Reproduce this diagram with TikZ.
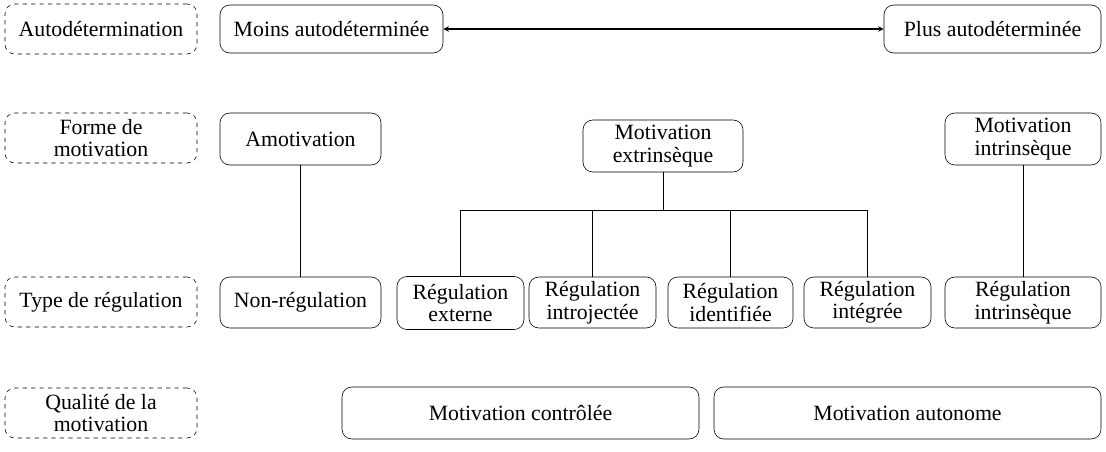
\documentclass[tikz,border=0pt]{standalone}
\usepackage{fontspec}
\setmainfont{Liberation Serif}
\usepackage{tikz}

\begin{document}
\begin{tikzpicture}[x=0.025cm, y=-0.025cm,
        box/.style={draw, rounded corners=7pt, align=center, inner sep=1pt,
            font=\fontsize{15.5}{16}\selectfont},
        lbl/.style={box, dashed, minimum width=192*0.025cm, minimum height=50*0.025cm}]
        \useasboundingbox (0, 0) rectangle (1106, 452);

        \node[lbl] at (101, 29) (l1) {Autodétermination};
        \node[lbl] at (101, 138) (l2) {Forme de\\motivation};
        \node[lbl] at (101, 302) (l3) {Type de régulation};
        \node[lbl] at (101, 413) (l4) {Qualité de la\\motivation};

        \node[box, minimum width=223*0.025cm, minimum height=48*0.025cm] at (331.5, 29) (moins) {Moins autodéterminée};
        \node[box, minimum width=217*0.025cm, minimum height=48*0.025cm] at (992.5, 29) (plus) {Plus autodéterminée};

        \node[box, minimum width=161*0.025cm, minimum height=52*0.025cm] at (300.5, 139) (amot) {Amotivation};
        \node[box, minimum width=160*0.025cm, minimum height=52*0.025cm] at (663, 146) (ext) {Motivation\\extrinsèque};
        \node[box, minimum width=156*0.025cm, minimum height=52*0.025cm] at (1023, 139) (intr) {Motivation\\intrinsèque};

        \node[box, minimum width=161*0.025cm, minimum height=51*0.025cm] at (300.5, 302.5) (nonr) {Non-régulation};
        \node[box, minimum width=127*0.025cm, minimum height=53*0.025cm] at (460.5, 303) (rext) {Régulation\\externe};
        \node[box, minimum width=127*0.025cm, minimum height=51*0.025cm] at (592.5, 302.5) (rintro) {Régulation\\introjectée};
        \node[box, minimum width=125*0.025cm, minimum height=51*0.025cm] at (730.5, 302.5) (rident) {Régulation\\identifiée};
        \node[box, minimum width=127*0.025cm, minimum height=51*0.025cm] at (867.5, 302.5) (rinteg) {Régulation\\intégrée};
        \node[box, minimum width=156*0.025cm, minimum height=51*0.025cm] at (1023, 302.5) (rintr) {Régulation\\intrinsèque};

        \node[box, minimum width=357*0.025cm, minimum height=52*0.025cm] at (520.5, 413) (ctrl) {Motivation contrôlée};
        \node[box, minimum width=387*0.025cm, minimum height=52*0.025cm] at (907.5, 413) (auto) {Motivation autonome};

        \coordinate (fork) at (663, 210);

        \draw[<->, >=stealth, thick] (moins) -- (plus);
        \draw (amot) -- (nonr);
        \draw (intr) -- (rintr);
        \draw (ext) -- (fork);
        \draw (rext.north) |- (rinteg.north |- fork) -- (rinteg.north);
        \draw (rintro.north) -- (rintro.north |- fork);
        \draw (rident.north) -- (rident.north |- fork);
    \end{tikzpicture}
\end{document}
